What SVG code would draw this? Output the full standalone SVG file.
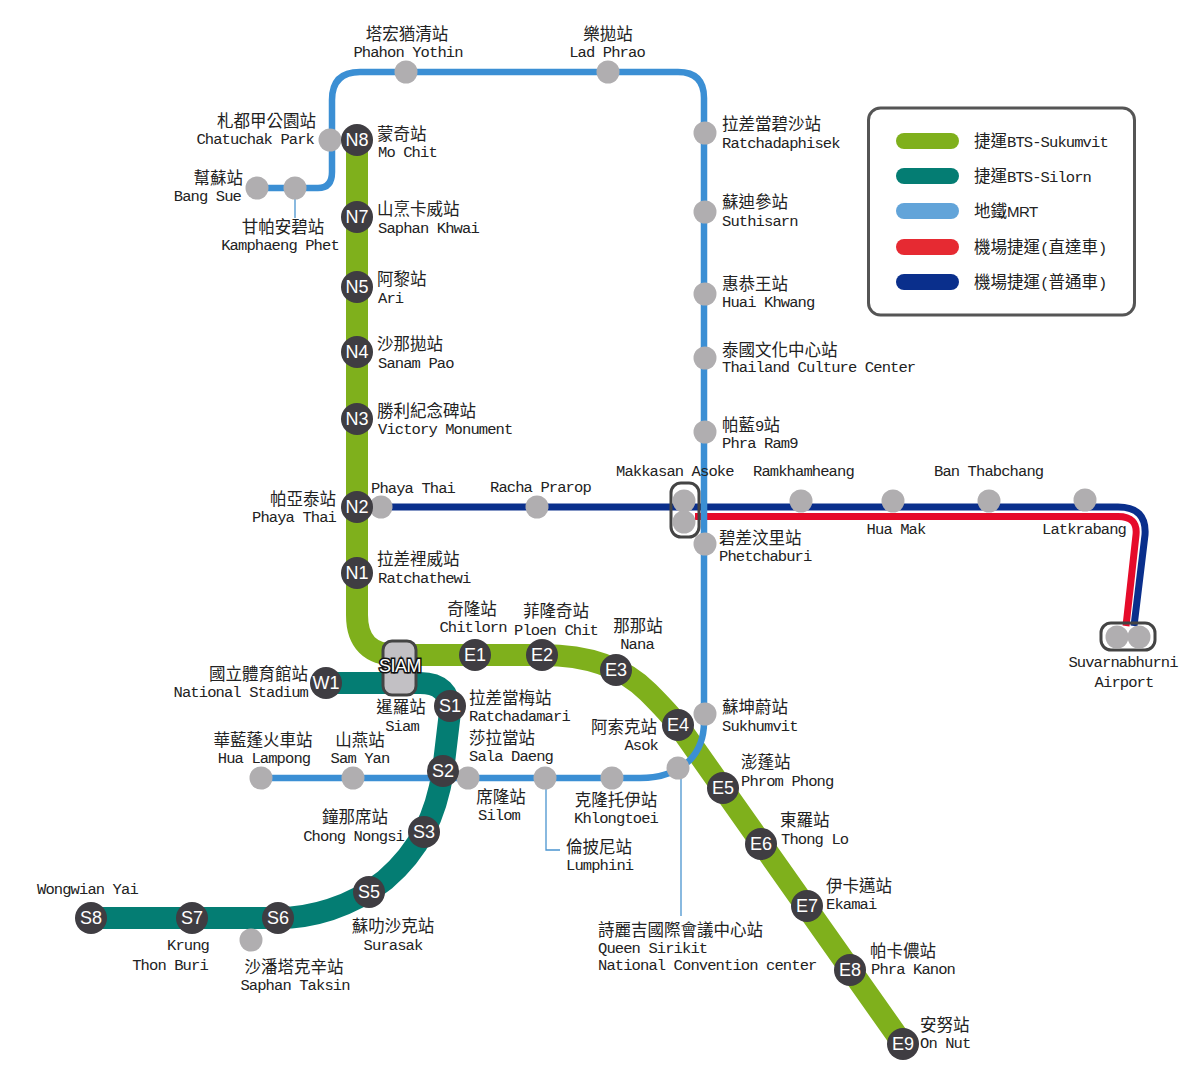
<svg xmlns="http://www.w3.org/2000/svg" width="1200" height="1090" viewBox="0 0 1200 1090">
<style>
text{font-family:"Liberation Mono","Noto Sans CJK TC",monospace;font-size:15.5px;letter-spacing:-0.9px;fill:#222}
.c{font-family:"Noto Sans CJK TC","Liberation Sans",sans-serif;font-size:16.5px;letter-spacing:0}
.p{font-family:"Liberation Mono",monospace;font-size:15.5px;letter-spacing:-0.9px}
.s{font-family:"Liberation Sans",sans-serif;font-size:15px;letter-spacing:-0.5px}
.m{text-anchor:middle}.e{text-anchor:end}
.lab{font-family:"Liberation Sans",sans-serif;font-size:18px;letter-spacing:0;fill:#fff;text-anchor:middle}
.siam{font-family:"Liberation Sans",sans-serif;font-size:18px;letter-spacing:-0.5px;fill:#fff;stroke:#111;stroke-width:3;paint-order:stroke;text-anchor:middle}
.g{fill:#b0aeb0}
.d{fill:#3f3d42}
.line{fill:none}
.tick{fill:none;stroke:#4a94cf;stroke-width:1.3}
</style>
<rect width="1200" height="1090" fill="#fff"/>
<g id="connectors">
<path class="line" stroke="#7fb01c" stroke-width="22" d="M357,140V615Q357,655 397,655H542C580,655 620,664 648,692C660,704 670,714 678,725L903,1044"/>
<path class="line" stroke="#047d73" stroke-width="22" d="M326,683H420Q450,683 450,712L443,771C436,815 420,850 385,880C350,908 310,918 278,918H91"/>
<path class="line" stroke="#0a2f8c" stroke-width="7" d="M357,507H1118Q1147,507 1145,535L1134,626"/>
<path class="line" stroke="#e60b2a" stroke-width="7" d="M695,516.500H1118Q1138,516.500 1136,535L1126,626"/>
<path class="line" stroke="#3b8fd4" stroke-width="6.500" d="M257,188H318Q332,188 332,172V100Q332,72 360,72H678Q704,72 704,98V722Q704,745 690,760Q672,778 640,778H261"/>
<path class="tick" d="M295,198V218M546,788V850H560M681,778V916"/>
</g>
<g id="siam"><rect x="383" y="641" width="33" height="54" rx="9" fill="#c2c0c4" stroke="#444" stroke-width="3"/>
<text class="siam" x="400" y="672">SIAM</text></g>
<g id="makkasan"><rect x="671" y="483" width="28" height="54" rx="10" fill="none" stroke="#444" stroke-width="3"/><circle class="g" cx="684" cy="501" r="11.500"/><circle class="g" cx="684" cy="522" r="11.500"/></g>
<g id="airport"><rect x="1101" y="623" width="54" height="27" rx="10" fill="none" stroke="#444" stroke-width="3"/><circle class="g" cx="1117" cy="637" r="11.500"/><circle class="g" cx="1139" cy="637" r="11.500"/></g>
<g id="gray-stations">
<circle class="g" cx="406" cy="72" r="11.500"/><circle class="g" cx="608" cy="72" r="11.500"/>
<circle class="g" cx="705" cy="133" r="11.500"/><circle class="g" cx="705" cy="212" r="11.500"/><circle class="g" cx="705" cy="294" r="11.500"/><circle class="g" cx="705" cy="358" r="11.500"/><circle class="g" cx="705" cy="432" r="11.500"/><circle class="g" cx="705" cy="544" r="11.500"/><circle class="g" cx="705" cy="714" r="11.500"/>
<circle class="g" cx="678" cy="768" r="11.500"/><circle class="g" cx="612" cy="778" r="11.500"/><circle class="g" cx="545" cy="778" r="11.500"/><circle class="g" cx="468" cy="778" r="11.500"/><circle class="g" cx="353" cy="778" r="11.500"/><circle class="g" cx="261" cy="778" r="11.500"/>
<circle class="g" cx="330" cy="140" r="11.500"/><circle class="g" cx="295" cy="188" r="11.500"/><circle class="g" cx="257" cy="188" r="11.500"/>
<circle class="g" cx="381" cy="507" r="11.500"/><circle class="g" cx="537" cy="507" r="11.500"/><circle class="g" cx="801" cy="501" r="11.500"/><circle class="g" cx="893" cy="501" r="11.500"/><circle class="g" cx="989" cy="501" r="11.500"/><circle class="g" cx="1085" cy="500" r="11.500"/>
<circle class="g" cx="251" cy="940" r="11.500"/>
</g>
<g id="bts-stations">
<g id="N8"><circle class="d" cx="357" cy="140" r="16"/><text class="lab" x="357" y="146">N8</text></g>
<g id="N7"><circle class="d" cx="357" cy="217" r="16"/><text class="lab" x="357" y="223">N7</text></g>
<g id="N5"><circle class="d" cx="357" cy="287" r="16"/><text class="lab" x="357" y="293">N5</text></g>
<g id="N4"><circle class="d" cx="357" cy="352" r="16"/><text class="lab" x="357" y="358">N4</text></g>
<g id="N3"><circle class="d" cx="357" cy="419" r="16"/><text class="lab" x="357" y="425">N3</text></g>
<g id="N2"><circle class="d" cx="357" cy="507" r="16"/><text class="lab" x="357" y="513">N2</text></g>
<g id="N1"><circle class="d" cx="357" cy="573" r="16"/><text class="lab" x="357" y="579">N1</text></g>
<g id="E1"><circle class="d" cx="475" cy="655" r="16"/><text class="lab" x="475" y="661">E1</text></g>
<g id="E2"><circle class="d" cx="542" cy="655" r="16"/><text class="lab" x="542" y="661">E2</text></g>
<g id="E3"><circle class="d" cx="616" cy="670" r="16"/><text class="lab" x="616" y="676">E3</text></g>
<g id="E4"><circle class="d" cx="678" cy="725" r="16"/><text class="lab" x="678" y="731">E4</text></g>
<g id="E5"><circle class="d" cx="723" cy="788" r="16"/><text class="lab" x="723" y="794">E5</text></g>
<g id="E6"><circle class="d" cx="761" cy="844" r="16"/><text class="lab" x="761" y="850">E6</text></g>
<g id="E7"><circle class="d" cx="807" cy="906" r="16"/><text class="lab" x="807" y="912">E7</text></g>
<g id="E8"><circle class="d" cx="850" cy="970" r="16"/><text class="lab" x="850" y="976">E8</text></g>
<g id="E9"><circle class="d" cx="903" cy="1044" r="16"/><text class="lab" x="903" y="1050">E9</text></g>
<g id="W1"><circle class="d" cx="326" cy="683" r="16"/><text class="lab" x="326" y="689">W1</text></g>
<g id="S1"><circle class="d" cx="450" cy="706" r="16"/><text class="lab" x="450" y="712">S1</text></g>
<g id="S2"><circle class="d" cx="443" cy="771" r="16"/><text class="lab" x="443" y="777">S2</text></g>
<g id="S3"><circle class="d" cx="424" cy="832" r="16"/><text class="lab" x="424" y="838">S3</text></g>
<g id="S5"><circle class="d" cx="369" cy="892" r="16"/><text class="lab" x="369" y="898">S5</text></g>
<g id="S6"><circle class="d" cx="278" cy="918" r="16"/><text class="lab" x="278" y="924">S6</text></g>
<g id="S7"><circle class="d" cx="192" cy="918" r="16"/><text class="lab" x="192" y="924">S7</text></g>
<g id="S8"><circle class="d" cx="91" cy="918" r="16"/><text class="lab" x="91" y="924">S8</text></g>
</g>
<g id="labels">
<text class="c m" x="407" y="40">塔宏猶清站</text><text class="m" x="408" y="57">Phahon Yothin</text>
<text class="c m" x="608" y="40">樂拋站</text><text class="m" x="607" y="57">Lad Phrao</text>
<text class="c e" x="316" y="127">札都甲公園站</text><text class="e" x="314" y="144">Chatuchak Park</text>
<text class="c e" x="243" y="184">幫蘇站</text><text class="e" x="241" y="201">Bang Sue</text>
<text class="c m" x="283" y="233">甘帕安碧站</text><text class="m" x="280" y="250">Kamphaeng Phet</text>
<text class="c" x="377" y="140">蒙奇站</text><text x="378" y="157">Mo Chit</text>
<text class="c" x="377" y="215">山烹卡威站</text><text x="378" y="233">Saphan Khwai</text>
<text class="c" x="377" y="285">阿黎站</text><text x="378" y="303">Ari</text>
<text class="c" x="377" y="350">沙那拋站</text><text x="378" y="368">Sanam Pao</text>
<text class="c" x="377" y="417">勝利紀念碑站</text><text x="378" y="434">Victory Monument</text>
<text class="c e" x="336" y="505">帕亞泰站</text><text class="e" x="336" y="522">Phaya Thai</text>
<text x="371" y="493">Phaya Thai</text><text x="490" y="492">Racha Prarop</text>
<text class="c" x="377" y="565">拉差裡威站</text><text x="378" y="583">Ratchathewi</text>
<text class="c m" x="472" y="615">奇隆站</text><text class="m" x="473" y="632">Chitlorn</text>
<text class="c m" x="556" y="617">菲隆奇站</text><text class="m" x="556" y="635">Ploen Chit</text>
<text class="c m" x="638" y="632">那那站</text><text class="m" x="637" y="649">Nana</text>
<text class="c e" x="308" y="680">國立體育館站</text><text class="e" x="308" y="697">National Stadium</text>
<text class="c m" x="401" y="713">暹羅站</text><text class="m" x="402" y="731">Siam</text>
<text class="c" x="469" y="704">拉差當梅站</text><text x="469" y="721">Ratchadamari</text>
<text class="c" x="469" y="744">莎拉當站</text><text x="469" y="761">Sala Daeng</text>
<text class="c m" x="263" y="746">華藍蓬火車站</text><text class="m" x="264" y="763">Hua Lampong</text>
<text class="c m" x="360" y="746">山燕站</text><text class="m" x="360" y="763">Sam Yan</text>
<text class="c e" x="388" y="823">鐘那席站</text><text class="e" x="404" y="841">Chong Nongsi</text>
<text class="c m" x="501" y="803">席隆站</text><text class="m" x="499" y="820">Silom</text>
<text class="c m" x="616" y="806">克隆托伊站</text><text class="m" x="616" y="823">Khlongtoei</text>
<text class="c" x="566" y="853">倫披尼站</text><text x="566" y="870">Lumphini</text>
<text class="c e" x="657" y="733">阿索克站</text><text class="e" x="658" y="750">Asok</text>
<text class="c" x="722" y="713">蘇坤蔚站</text><text x="722" y="731">Sukhumvit</text>
<text class="c" x="741" y="768">澎蓬站</text><text x="741" y="786">Phrom Phong</text>
<text class="c" x="780" y="826">東羅站</text><text x="781" y="844">Thong Lo</text>
<text class="c" x="826" y="892">伊卡邁站</text><text x="826" y="909">Ekamai</text>
<text class="c" x="870" y="957">帕卡儂站</text><text x="871" y="974">Phra Kanon</text>
<text class="c" x="920" y="1031">安努站</text><text x="920" y="1048">On Nut</text>
<text class="c" x="598" y="936">詩麗吉國際會議中心站</text><text x="598" y="953">Queen Sirikit</text><text x="598" y="970">National Convention center</text>
<text class="c m" x="393" y="932">蘇叻沙克站</text><text class="m" x="393" y="950">Surasak</text>
<text class="c m" x="294" y="973">沙潘塔克辛站</text><text class="m" x="295" y="990">Saphan Taksin</text>
<text x="37" y="894">Wongwian Yai</text>
<text class="m" x="188" y="950">Krung</text><text class="m" x="170" y="970">Thon Buri</text>
<text class="c" x="722" y="130">拉差當碧沙站</text><text x="722" y="148">Ratchadaphisek</text>
<text class="c" x="722" y="208">蘇迪參站</text><text x="722" y="226">Suthisarn</text>
<text class="c" x="722" y="290">惠恭王站</text><text x="722" y="307">Huai Khwang</text>
<text class="c" x="722" y="356">泰國文化中心站</text><text x="722" y="372">Thailand Culture Center</text>
<text class="c" x="722" y="431">帕藍<tspan class="p">9</tspan>站</text><text x="722" y="448">Phra Ram9</text>
<text class="c" x="719" y="544">碧差汶里站</text><text x="719" y="561">Phetchaburi</text>
<text x="616" y="476">Makkasan Asoke</text><text x="753" y="476">Ramkhamheang</text><text x="934" y="476">Ban Thabchang</text>
<text class="m" x="896" y="534">Hua Mak</text><text class="m" x="1084" y="534">Latkrabang</text>
<text class="m" x="1123" y="667">Suvarnabhurni</text><text class="m" x="1124" y="687">Airport</text>
</g>
<g id="legend">
<rect x="868.500" y="108" width="266" height="207" rx="12" fill="#fff" stroke="#555" stroke-width="3"/>
<rect x="896" y="133" width="63" height="16" rx="8" fill="#7fb01c"/>
<rect x="896" y="168" width="63" height="16" rx="8" fill="#047d73"/>
<rect x="896" y="203" width="63" height="16" rx="8" fill="#62a4d9"/>
<rect x="896" y="239" width="63" height="16" rx="8" fill="#e62a32"/>
<rect x="896" y="274" width="63" height="16" rx="8" fill="#0a2f8c"/>
<text class="c" x="974" y="147">捷運<tspan class="p">BTS-Sukumvit</tspan></text>
<text class="c" x="974" y="182">捷運<tspan class="p">BTS-Silorn</tspan></text>
<text class="c" x="974" y="217">地鐵<tspan class="s">MRT</tspan></text>
<text class="c" x="974" y="253">機場捷運<tspan class="p">(</tspan>直達車<tspan class="p">)</tspan></text>
<text class="c" x="974" y="288">機場捷運<tspan class="p">(</tspan>普通車<tspan class="p">)</tspan></text>
</g>
</svg>
